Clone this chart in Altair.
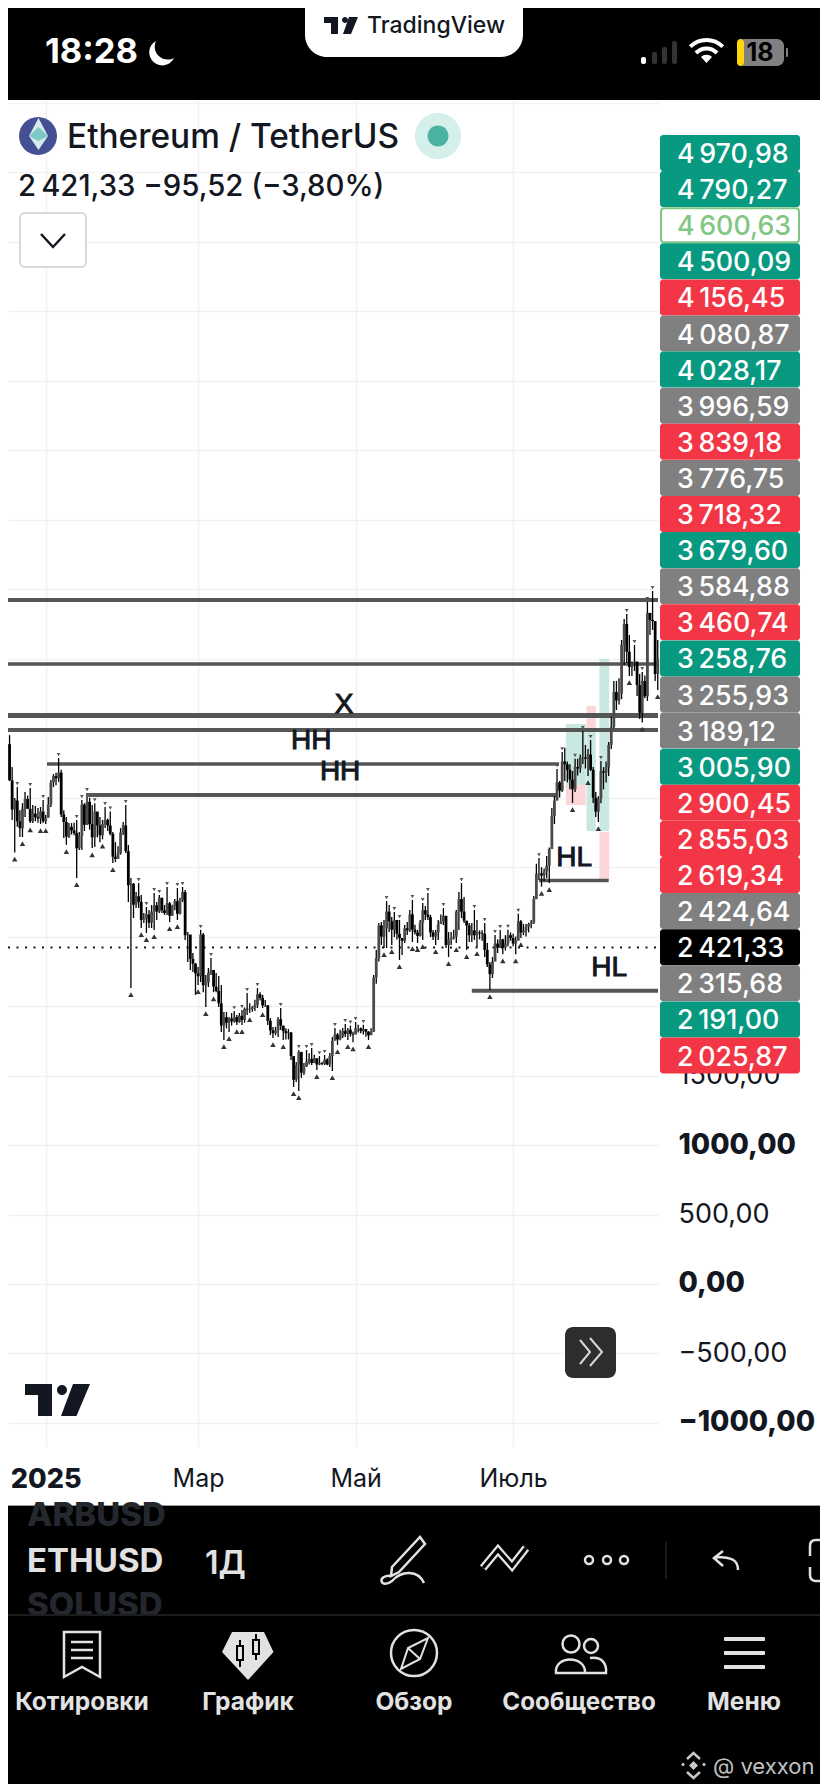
import altair as alt
import pandas as pd

# ---------- values ----------
first_day = -14
first_open = 3885
highs = [
 3950,3720,3497,3577,3410,3460,3540,3515,3570,3447,
 3440,3425,3433,3483,3375,3505,3627,3670,3680,3785,
 3700,3410,3360,3317,3317,3320,3339,3253,3483,3460,
 3533,3500,3447,3460,3360,3360,3340,3433,3350,3400,
 3253,3180,3150,3281,3325,3447,3160,2922,2886,2821,
 2886,2800,2670,2713,2692,2727,2814,2749,2800,2760,
 2727,2857,2749,2730,2770,2850,2780,2857,2835,2533,
 2512,2382,2310,2281,2548,2526,2224,2274,2346,2260,
 2238,2217,2152,1958,1958,1922,1950,1964,1936,1950,
 1972,1990,2094,2020,2000,2045,2130,2100,2080,2044,
 2008,1914,1850,1850,1922,1986,1842,1840,1835,1814,
 1634,1598,1684,1670,1590,1684,1660,1698,1650,1612,
 1640,1600,1648,1625,1662,1778,1842,1806,1830,1842,
 1871,1842,1860,1815,1886,1865,1845,1865,1830,1820,
 1840,2224,2404,2598,2605,2620,2756,2727,2641,2677,
 2590,2620,2490,2583,2605,2692,2764,2585,2548,2620,
 2742,2720,2814,2656,2548,2548,2620,2660,2706,2641,
 2533,2533,2550,2692,2821,2886,2785,2605,2598,2598,
 2692,2620,2545,2545,2598,2454,2317,2353,2512,2480,
 2548,2485,2510,2550,2530,2520,2500,2665,2620,2590,
 2590,2600,2620,2792,3025,3065,3000,2990,3080,3141,
 3425,3511,3706,3620,3828,3860,3760,3740,3692,3780,
 3780,3810,3980,3880,3850,3915,3720,3541,3511,3764,
 3720,3760,3900,4081,4340,4340,4360,4635,4786,4822,
 4671,4480,4599,4476,4390,4404,4380,4908,4824,4987,
 4771,4635]
lows = [
 3620,3340,3105,3290,3217,3217,3360,3420,3317,3317,
 3330,3320,3310,3317,3310,3360,3433,3577,3590,3613,
 3360,3210,3160,3210,3235,3230,2922,3123,3123,3260,
 3303,3270,3137,3145,3215,3180,3200,3281,3260,3230,
 3030,3037,3060,3090,3231,3102,2749,2130,2634,2706,
 2706,2562,2598,2526,2562,2562,2548,2620,2670,2670,
 2656,2656,2605,2650,2690,2620,2660,2749,2476,2317,
 2260,2245,2080,2152,2173,2100,1994,2137,2224,2100,
 2100,1994,1814,1756,1840,1814,1860,1880,1864,1880,
 1864,1880,1936,1950,1960,1965,1986,2040,1986,1994,
 1864,1792,1770,1790,1778,1828,1756,1760,1760,1612,
 1418,1454,1389,1483,1504,1562,1580,1576,1590,1540,
 1575,1575,1576,1575,1562,1533,1756,1720,1755,1770,
 1778,1756,1780,1740,1806,1810,1805,1795,1780,1756,
 1795,1814,2160,2320,2440,2418,2418,2533,2440,2497,
 2480,2332,2368,2454,2512,2533,2461,2516,2454,2500,
 2476,2620,2620,2497,2476,2440,2476,2590,2583,2418,
 2353,2440,2480,2454,2548,2634,2598,2404,2461,2461,
 2476,2425,2480,2470,2353,2281,2116,2202,2382,2382,
 2418,2373,2400,2430,2470,2430,2373,2480,2490,2510,
 2500,2530,2560,2590,2770,2907,2860,2900,2920,2886,
 3130,3310,3480,3501,3540,3620,3610,3560,3462,3540,
 3660,3680,3742,3710,3656,3692,3462,3361,3325,3460,
 3560,3610,3656,3850,4000,4131,4170,4210,4455,4469,
 4376,4376,4412,4232,4066,4041,4215,4196,4671,4707,
 4340,4275]
closes = [
 3625,3415,3480,3330,3280,3420,3490,3420,3330,3385,
 3360,3350,3400,3330,3355,3450,3610,3655,3640,3680,
 3380,3325,3220,3290,3265,3245,3135,3225,3450,3305,
 3470,3310,3215,3400,3300,3230,3310,3340,3300,3240,
 3075,3060,3100,3250,3300,3115,2870,2880,2730,2790,
 2750,2620,2630,2660,2600,2680,2725,2680,2780,2690,
 2670,2740,2650,2720,2755,2665,2765,2820,2510,2515,
 2340,2305,2235,2215,2515,2150,2170,2240,2260,2140,
 2110,2020,1860,1920,1880,1910,1890,1920,1885,1930,
 1900,1980,1975,1980,1990,2010,2085,2060,2005,2005,
 1895,1825,1805,1825,1905,1860,1820,1805,1810,1640,
 1470,1575,1670,1520,1565,1600,1620,1590,1625,1580,
 1590,1585,1615,1580,1640,1750,1795,1760,1785,1820,
 1800,1830,1800,1795,1840,1840,1820,1835,1815,1790,
 1815,2205,2345,2580,2500,2560,2680,2610,2550,2620,
 2520,2490,2470,2560,2545,2660,2550,2530,2505,2600,
 2690,2660,2640,2530,2500,2530,2590,2610,2650,2440,
 2480,2490,2500,2680,2770,2680,2615,2580,2510,2545,
 2510,2530,2525,2520,2405,2300,2230,2320,2450,2420,
 2480,2420,2450,2510,2490,2450,2470,2610,2530,2540,
 2570,2590,2600,2770,2950,2955,2940,2970,3010,3130,
 3370,3480,3610,3550,3760,3740,3700,3630,3560,3720,
 3710,3790,3790,3780,3810,3700,3500,3400,3490,3690,
 3680,3720,3880,4010,4260,4200,4250,4600,4750,4550,
 4440,4470,4480,4310,4110,4340,4230,4830,4780,4770,
 4390,4500]

swing_high_days = [-11,-6,-1,5,12,14,16,19,23,25,31,36,39,42,44,47,51,53,60,64,73,76,78,82,91,98,101,103,
                   106,108,112,116,118,120,123,132,135,137,142,146,148,154,161,166,170,174,176,179,183,
                   191,198,200,205,208,211,215,225,228,231,233,235]
swing_low_days = [-12,-9,-6,-2,0,8,12,18,22,26,33,37,39,42,48,51,59,62,65,69,71,74,76,79,84,88,92,96,98,
                  105,111,113,117,119,125,131,134,137,142,144,146,151,156,159,163,167,172,177,182,184,
                  192,195,204,210,214,226,231,237]

level_price = [4923, 4462, 4092, 3987, 3742, 3519, 2903, 2111]
level_start = [-14.6, -14.6, -14.6, -14.6, 0.5, 16.4, 191, 165]
level_end = [237.1, 237.1, 237.1, 237.1, 198.8, 198, 218, 237.1]
level_width = [4, 3.5, 5, 4, 3.5, 4, 3.5, 4]
last_price = [2421.33]

zone_start = [201.4, 201.4, 207.2, 209.4, 209.4, 214.4, 214.4]
zone_end = [209.1, 209.1, 209.1, 213, 213, 218.2, 218.2]
zone_top = [4030, 3591, 3745, 3980, 4160, 4498, 3253]
zone_bottom = [3591, 3447, 3591, 3260, 3980, 3260, 2907]
zone_kind = ["teal", "red", "teal", "teal", "red", "teal", "red"]

note_text = ["X", "HH", "HH", "HL", "HL"]
note_day = [115.5, 102.8, 114, 204.6, 218.2]
note_price = [4167, 3908, 3685, 3066, 2274]

tag_labels = ["4\u2009970,98","4\u2009790,27","4\u2009600,63","4\u2009500,09","4\u2009156,45","4\u2009080,87",
              "4\u2009028,17","3\u2009996,59","3\u2009839,18","3\u2009776,75","3\u2009718,32","3\u2009679,60",
              "3\u2009584,88","3\u2009460,74","3\u2009258,76","3\u2009255,93","3\u2009189,12","3\u2009005,90",
              "2\u2009900,45","2\u2009855,03","2\u2009619,34","2\u2009424,64","2\u2009421,33","2\u2009315,68",
              "2\u2009191,00","2\u2009025,87"]
tag_kinds = ["g","g","o","g","r","n","g","n","r","n","r","g","n","r","g","n","n","g","r","r","r","n","k","n","g","r"]

y_ticks = [-1000,-500,0,500,1000,1500,2000,2500,3000,3500,4000,4500,5000,5500,6000,6500,7000,7500,8000,8500]
month_days = [0, 59, 120, 181]
month_labels = ["2025", "Мар", "Май", "Июль"]

# ---------- tables ----------
days = [first_day + i for i in range(len(closes))]
opens = [first_open] + closes[:-1]
candles = pd.DataFrame({"day": days, "open": opens, "high": highs, "low": lows, "close": closes})
candles["up"] = candles["close"] >= candles["open"]
by_day = candles.set_index("day")
marks_hi = pd.DataFrame({"day": swing_high_days, "p": [by_day.loc[d, "high"] + 24 for d in swing_high_days]})
marks_lo = pd.DataFrame({"day": swing_low_days, "p": [by_day.loc[d, "low"] - 48 for d in swing_low_days]})
levels = pd.DataFrame({"p": level_price, "a": level_start, "b": level_end, "w": level_width})
zones = pd.DataFrame({"a": zone_start, "b": zone_end, "t": zone_top, "u": zone_bottom, "k": zone_kind})
notes = pd.DataFrame({"t": note_text, "day": note_day, "p": note_price})

xs = alt.Scale(domain=[-14.6, 237.1], nice=False, zero=False)
ys = alt.Scale(domain=[-1166, 8521], nice=False, zero=False)
INK = "#131722"
FONT = "Inter"

def X(v): return v - 8
def Y(v): return v - 100

def box(x0, y0, x1, y1, fill, radius=0, **kw):
    return alt.Chart().mark_rect(fill=fill, cornerRadius=radius, opacity=1, **kw).encode(
        x=alt.value(X(x0)), x2=alt.value(X(x1)), y=alt.value(Y(y0)), y2=alt.value(Y(y1)))

def label(s, x, y, size, color=INK, weight=500, align="center", font=FONT):
    return alt.Chart().mark_text(text=s, fontSize=size, color=color, fontWeight=weight, align=align,
                                 baseline="middle", font=font).encode(x=alt.value(X(x)), y=alt.value(Y(y)))

def icon(path, fill=None, stroke=None, sw=2):
    kw = dict(shape=path, size=4, opacity=1, filled=bool(fill))
    if fill: kw["fill"] = fill
    kw["stroke"] = stroke if stroke else "transparent"
    kw["strokeWidth"] = sw if stroke else 0
    return alt.Chart().mark_point(**kw).encode(x=alt.value(X(0)), y=alt.value(Y(0)))

def circle(cx, cy, r):
    return f"M{cx-r},{cy} a{r},{r} 0 1,0 {2*r},0 a{r},{r} 0 1,0 {-2*r},0 Z"

# ---------- chart layers ----------
month_expr = " : ".join(f"datum.value=={d} ? '{t}'" for d, t in zip(month_days, month_labels)) + " : ''"
y_label_expr = ("datum.value>1500 ? '' : replace(replace(format(datum.value,'.2f'),'.',','),'-','\u2212')")

x_axis = alt.Axis(
    values=month_days, labelExpr=month_expr, grid=True, gridColor="#f1f1f3", gridWidth=1.5, title=None,
    domain=False, ticks=False, labelFont=FONT, labelColor=INK, labelPadding=20,
    labelOverlap=False, labelFlush=False, labelBound=False,
    labelFontSize={"condition": {"test": "datum.value==0", "value": 27}, "value": 25},
    labelFontWeight={"condition": {"test": "datum.value==0", "value": 800}, "value": 400})
y_axis = alt.Axis(
    values=y_ticks, labelExpr=y_label_expr, orient="right", grid=True, gridColor="#f1f1f3", gridWidth=1.5, title=None,
    domain=False, ticks=False, labelFont=FONT, labelColor=INK, labelPadding=20,
    labelAlign="left", labelOverlap=False, labelFlush=False, labelBound=False,
    labelFontSize={"condition": {"test": "datum.value==0 || abs(datum.value)==1000", "value": 28}, "value": 27},
    labelFontWeight={"condition": {"test": "datum.value==0 || abs(datum.value)==1000", "value": 800}, "value": 400})

def sx(f): return alt.X(f"{f}:Q", scale=xs, axis=x_axis)
def sy(f): return alt.Y(f"{f}:Q", scale=ys, axis=y_axis)

zone_layer = alt.Chart(zones).mark_rect(opacity=1).encode(
    x=sx("a"), x2="b:Q", y=sy("t"), y2="u:Q",
    fill=alt.Fill("k:N", scale=alt.Scale(domain=["teal", "red"], range=["#c4e6df", "#fbd3d6"]), legend=None),
    fillOpacity=alt.value(0.9))
level_layer = alt.Chart(levels).mark_rule(color="#555555").encode(
    x=sx("a"), x2="b:Q", y=sy("p"), strokeWidth=alt.StrokeWidth("w:Q", scale=None, legend=None))
dotted = alt.Chart(pd.DataFrame({"p": last_price})).mark_rule(color="#131722", strokeWidth=2, strokeDash=[2, 6.5]).encode(
    x=alt.value(0), x2=alt.value(650), y=sy("p"))
wicks = alt.Chart(candles).mark_rule(color="#000000", strokeWidth=1.3).encode(x=sx("day"), y=sy("low"), y2="high:Q")
bodies = alt.Chart(candles).mark_rule(strokeWidth=2.8).encode(
    x=sx("day"), y=sy("open"), y2="close:Q",
    color=alt.condition("datum.up", alt.value("#4a4a4a"), alt.value("#000000")))
hi_marks = alt.Chart(marks_hi).mark_point(shape="triangle-down", filled=True, size=14, color="#555555", opacity=1).encode(x=sx("day"), y=sy("p"))
lo_marks = alt.Chart(marks_lo).mark_point(shape="triangle-up", filled=True, size=30, color="#333333", opacity=1).encode(x=sx("day"), y=sy("p"))
note_layer = alt.Chart(notes).mark_text(font="Liberation Sans", fontSize=28, color="#131722", stroke="#131722", strokeWidth=1, baseline="middle").encode(
    x=sx("day"), y=sy("p"), text="t:N")

layers = [zone_layer, level_layer, dotted, wicks, bodies, hi_marks, lo_marks, note_layer]

# right side price tags
tag_fill = {"g": "#089981", "r": "#F23645", "n": "#808080", "k": "#000000", "o": "#ffffff"}
for i, (t, k) in enumerate(zip(tag_labels, tag_kinds)):
    cy = 153 + 36.1 * i
    if k == "o":
        layers.append(box(661, cy - 17, 799, cy + 17, "#ffffff", 3, stroke="#81C784", strokeWidth=2))
    else:
        layers.append(box(660, cy - 18, 800, cy + 18, tag_fill[k], 3))
    layers.append(label(t, 677, cy + 2, 26.8, "#81C784" if k == "o" else "#ffffff", 500, "left"))

# legend area
layers += [
    icon(circle(38, 136, 19), fill="#454F94"),
    icon("M38.5,118 L48,136 L38.5,150 L29,136 Z", fill="#d5ecec"),
    icon("M38.5,127 L48,136 L38.5,141 L29,136 Z", fill="#7fc8c8"),
    label("Ethereum / TetherUS", 67, 138, 33.4, align="left"),
    icon(circle(438, 136, 23), fill="#d5f0ea"),
    icon(circle(438, 136, 10.5), fill="#4CB3A0"),
    label("2\u2009421,33  \u221295,52 (\u22123,80%)", 18, 187, 29.3, align="left"),
    box(20, 213, 86, 267, "#ffffff", 5, stroke="#d8d8d8", strokeWidth=2),
    icon("M41,234 L53,247 L65,234", stroke=INK, sw=2.5),
    box(565, 1327, 616, 1378, "#2e2e2e", 8),
    icon("M580,1340 L590,1352 L580,1364 M590,1338 L602,1352 L590,1366", stroke="#d8d8d8", sw=2),
    icon("M25,1384 H52 V1416 H38 V1395 H25 Z M73,1384 H90 L76.5,1416 H61 Z" + circle(62, 1390, 5), fill=INK),
]

# status bar
layers += [
    box(0, 0, 828, 100, "#000000"),
    box(305, 0, 523, 30, "#ffffff"),
    box(305, 0, 523, 57, "#ffffff", 22),
    icon("M324,17 H338 V34 H331 V23 H324 Z M349,17 H358 L351,34 H343 Z" + circle(345, 20, 3), fill=INK),
    label("TradingView", 367, 26, 23, INK, 500, "left"),
    label("18:28", 45, 53, 34.5, "#ffffff", 700, "left"),
    icon("M156,41 A13,13 0 1 0 174,58 A13,13 0 0 1 156,41 Z", fill="#ffffff"),
    box(641, 57, 646, 64, "#ffffff", 2),
    box(652, 52, 657, 64, "#333333", 2),
    box(662, 47, 667, 64, "#333333", 2),
    box(672, 41, 677, 64, "#333333", 2),
    icon("M690.2,46.7 A23,23 0 0 1 722.8,46.7 M696,53 A14.5,14.5 0 0 1 717,53", stroke="#ffffff", sw=4),
    icon("M706.5,63 L701,57 A8,8 0 0 1 712,57 Z", fill="#ffffff"),
    box(737, 39, 784, 66, "#808080", 7),
    box(737, 39, 744, 66, "#FFD60A", 4),
    box(786, 48, 788, 57, "#808080", 1),
    label("18", 760, 53, 25, "#000000", 700),
]

# bottom bars
TINT = "#e2e2e2"
layers += [
    box(0, 1505, 828, 1792, "#000000"),
    box(0, 1505, 828, 1506, "#9a9a9a"),
    label("ARBUSD", 27, 1516, 33, "#24272e", 800, "left"),
    label("ETHUSD", 27, 1562, 33, TINT, 700, "left"),
    label("SOLUSD", 27, 1606, 33, "#24272e", 800, "left"),
    label("1Д", 205, 1564, 32, TINT, 600, "left"),
    icon("M420,1537 L425,1544 L399,1572 L391,1576 L392,1567 Z M392,1576 C376,1574 380,1590 392,1581 C402,1570 418,1570 424,1583",
         stroke=TINT, sw=2.5),
    icon("M483,1568 L498,1550 L512,1566 L526,1548", stroke=TINT, sw=8),
    icon("M483,1568 L498,1550 L512,1566 L526,1548", stroke="#000000", sw=3.5),
    icon(circle(589, 1560, 4) + circle(607, 1560, 4) + circle(624, 1560, 4), stroke=TINT, sw=2.5),
    box(665.5, 1542, 666.5, 1579, "#333333"),
    icon("M738,1570 C738,1560 732,1557 716,1557 M723,1551 L714,1558 L723,1566", stroke=TINT, sw=2.5),
    icon("M821,1540 H816 Q810,1540 810,1546 V1556 M810,1567 V1575 Q810,1581 816,1581 H821", stroke=TINT, sw=2.5),
    box(0, 1614, 828, 1616, "#1c1c1c"),
    # Kotirovki
    icon("M64,1632 H100 V1677 L82,1667 L64,1677 Z M71,1642 H93 M71,1650 H93 M71,1658 H93", stroke=TINT, sw=2.5),
    label("Котировки", 82, 1703, 24.5, TINT, 700),
    # Grafik
    icon("M232,1632 H264 L273.5,1652 L248,1680 L222,1652 Z", fill=TINT),
    icon("M237,1646 H243 V1660 H237 Z M240,1640 V1646 M240,1660 V1667 M253,1640 H259 V1654 H253 Z M256,1634 V1640 M256,1654 V1660",
         stroke="#000000", sw=2),
    label("График", 248, 1703, 24.5, TINT, 700),
    # Obzor
    icon(circle(414, 1653, 23), stroke=TINT, sw=2.5),
    icon("M428,1638 L420,1659 L401,1669 L408,1648 Z M408,1648 L420,1659", stroke=TINT, sw=2),
    label("Обзор", 414, 1703, 24.5, TINT, 700),
    # Soobshchestvo
    icon(circle(571, 1644, 8.5) + circle(591, 1646, 7) +
         "M556,1673 C554,1655 586,1655 585,1673 Z M590,1658 C602,1656 607,1664 606,1673 H586", stroke=TINT, sw=2.5),
    label("Сообщество", 579, 1703, 24.2, TINT, 700),
    # Menu
    box(724, 1637, 765, 1641, TINT, 1),
    box(724, 1651, 765, 1655, TINT, 1),
    box(724, 1665, 765, 1669, TINT, 1),
    label("Меню", 744, 1703, 24.5, TINT, 700),
    # watermark
    icon("M693.5,1761 L698,1765.5 L693.5,1770 L689,1765.5 Z", fill="#c8c8c8"),
    icon("M687,1759 L693.5,1753 L700,1759 M687,1772 L693.5,1778 L700,1772 M682,1765.5 L684,1763.5 M705,1765.5 L703,1763.5",
         stroke="#c8c8c8", sw=2.5),
    label("@ vexxon", 713, 1767, 22, "#c0c0c0", 400, "left"),
]

chart = alt.layer(*layers).properties(
    width=650, height=1346,
    padding={"left": 0, "top": 92, "right": 162, "bottom": 338},
    autosize=alt.AutoSizeParams(type="none"),
    background="#ffffff",
).configure_view(stroke=None)

chart.save("out.html", embed_options={"renderer": "svg", "actions": False})
